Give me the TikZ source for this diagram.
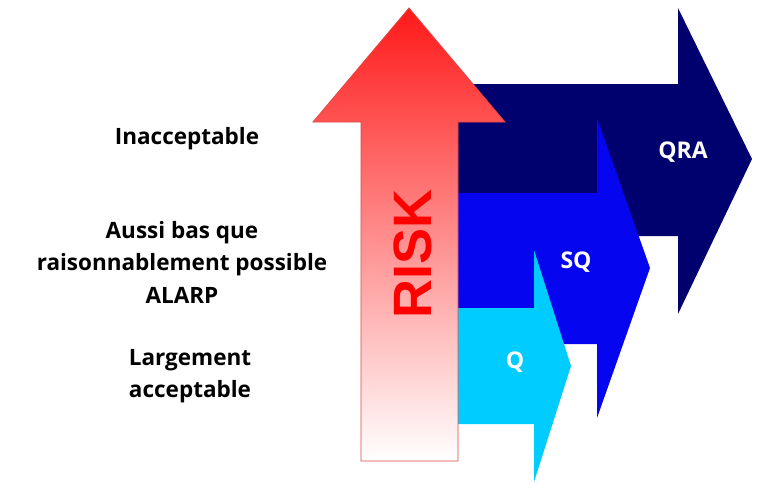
\documentclass[tikz,border=0pt]{standalone}
\usepackage{fontspec}
\setmainfont{Open Sans}
\newfontfamily\arialfont{Liberation Sans}
\begin{document}
\begin{tikzpicture}[x=1pt,y=-1pt,
  lbl/.style={font=\bfseries\fontsize{22.5}{32.5}\selectfont, align=center, text=black, inner sep=0pt},
  inlbl/.style={font=\bfseries\fontsize{23}{25}\selectfont, text=white, inner sep=0pt}]
\useasboundingbox[fill=white] (0,0) rectangle (768,491);
% QRA arrow
\fill[fill={rgb,255:red,0;green,0;blue,110}] (420,84) -- (678,84) -- (678,8) -- (752,159) -- (678,314) -- (678,236) -- (420,236) -- cycle;
% SQ arrow
\fill[fill={rgb,255:red,5;green,5;blue,240}] (420,193) -- (597,193) -- (597,118) -- (650,268) -- (597,418) -- (597,344) -- (420,344) -- cycle;
% Q arrow
\fill[fill={rgb,255:red,0;green,204;blue,255}] (420,308) -- (534,308) -- (534,250) -- (571,366) -- (534,482) -- (534,424) -- (420,424) -- cycle;
% Red arrow
\draw[draw={rgb,255:red,225;green,70;blue,70}, line width=0.8pt, top color={rgb,255:red,255;green,25;blue,25}, bottom color=white]
  (409,8) -- (505,122) -- (458,122) -- (458,461) -- (361,461) -- (361,122) -- (313,122) -- cycle;
\node[rotate=90, text={rgb,255:red,255;green,0;blue,0}, font=\arialfont\bfseries\fontsize{54}{54}\selectfont, inner sep=0pt] (risk) at (413,254) {RISK};
\node[inlbl] (qra) at (683,152) {QRA};
\node[inlbl] (sq) at (576,262) {SQ};
\node[inlbl] (q) at (515,362) {Q};
\node[lbl] (inacc) at (187,139) {Inacceptable};
\node[lbl] (alarp) at (182,262) {Aussi bas que\\raisonnablement possible\\ALARP};
\node[lbl] (large) at (190,376) {Largement\\acceptable};
\end{tikzpicture}
\end{document}
